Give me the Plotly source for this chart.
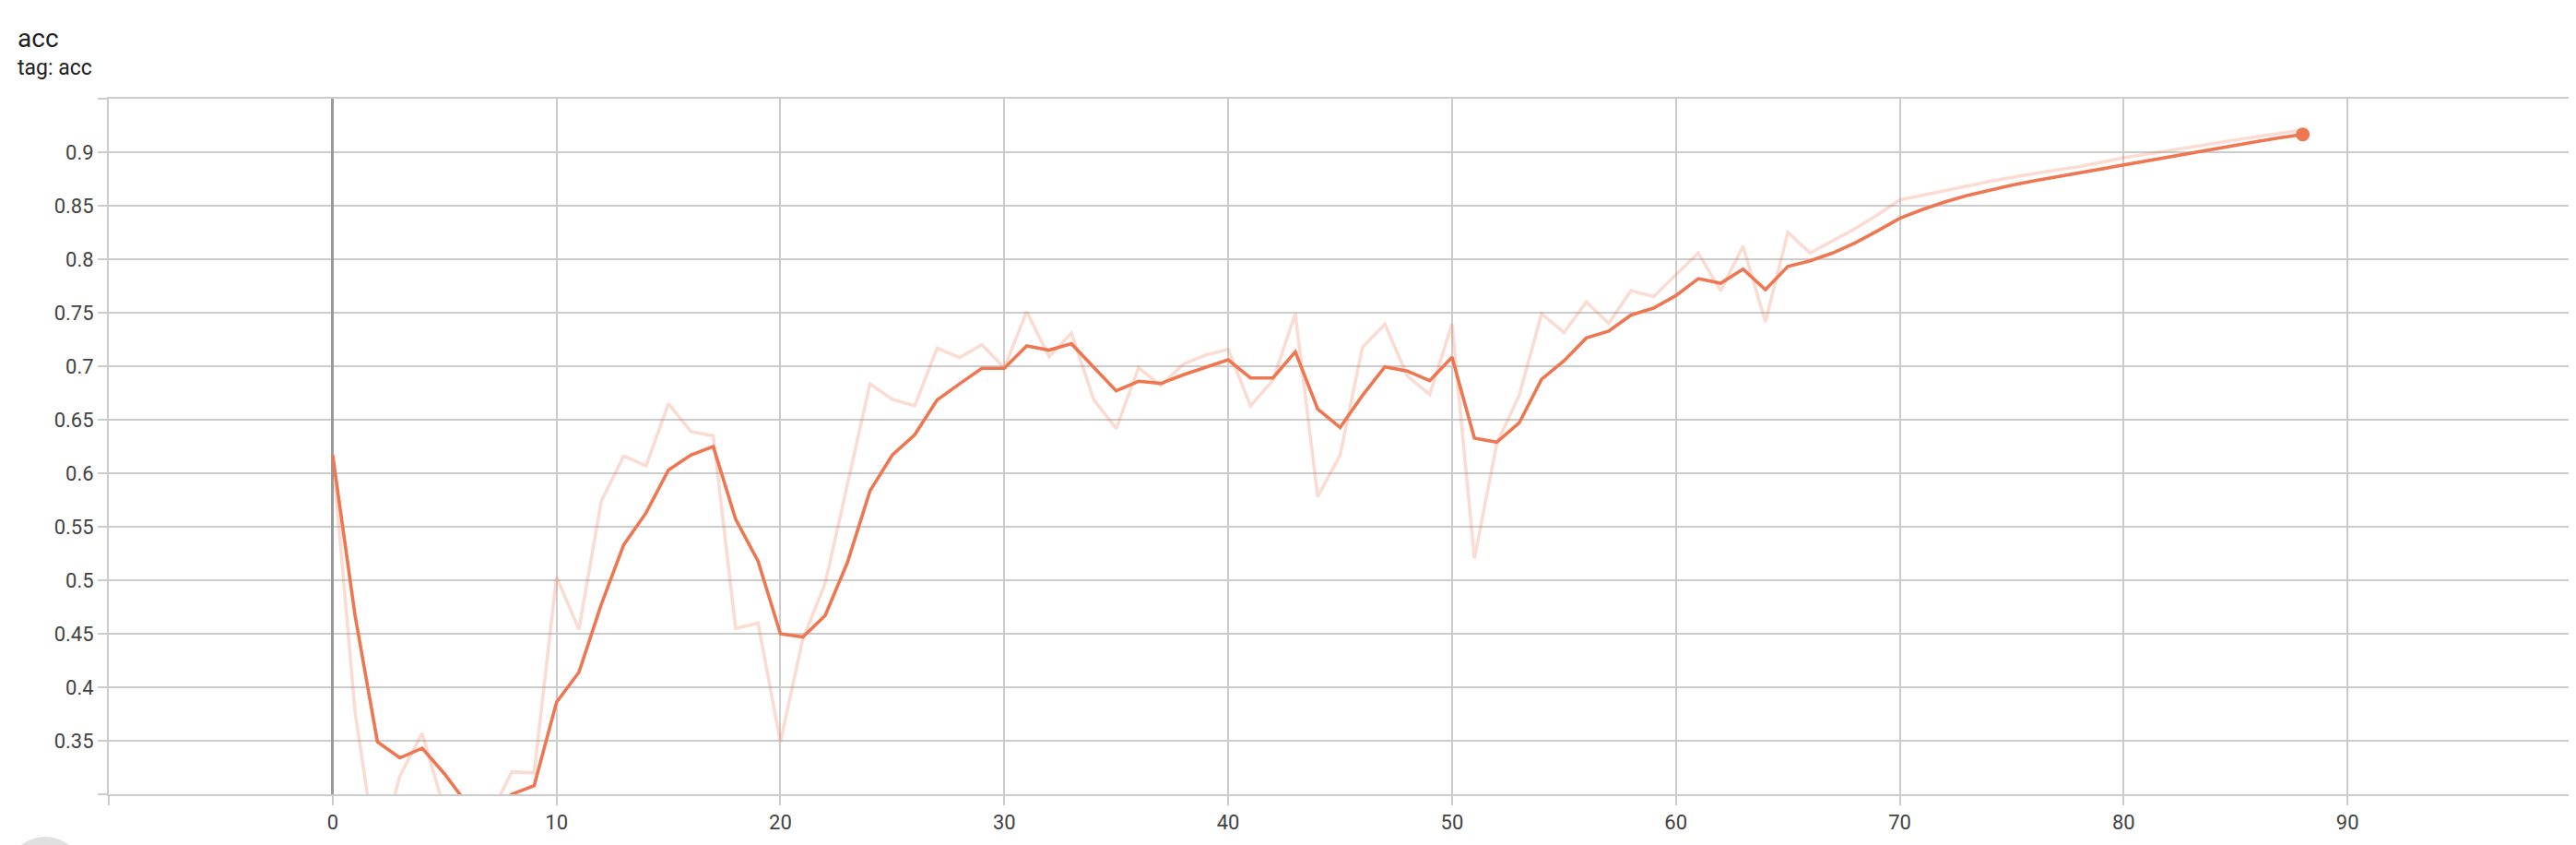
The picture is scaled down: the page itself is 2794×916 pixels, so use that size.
import plotly.graph_objects as go

# ---------------- data ----------------
steps = list(range(0, 89))

acc_raw = [
    0.617, 0.377, 0.237, 0.317, 0.357, 0.285, 0.251, 0.279, 0.321, 0.320,
    0.503, 0.454, 0.574, 0.616, 0.607, 0.665, 0.639, 0.635, 0.455, 0.460,
    0.349, 0.445, 0.497, 0.592, 0.6835, 0.669, 0.663, 0.717, 0.708, 0.720,
    0.6985, 0.751, 0.709, 0.731, 0.6685, 0.642, 0.6985, 0.682, 0.702, 0.7105,
    0.7157, 0.663, 0.687, 0.749, 0.578, 0.617, 0.7178, 0.7393, 0.691, 0.6736,
    0.7393, 0.5204, 0.6277, 0.6727, 0.749, 0.7315, 0.7599, 0.740, 0.7706, 0.765,
    0.785, 0.8058, 0.7706, 0.8122, 0.7414, 0.8251, 0.8058, 0.8174, 0.8285, 0.8414,
    0.8554, 0.8597, 0.864, 0.8687, 0.8727, 0.8765, 0.8802, 0.8834, 0.8865, 0.8905,
    0.8948, 0.898, 0.9015, 0.9049, 0.9084, 0.9115, 0.9147, 0.9178, 0.9207,
]

acc_smoothed = [
    0.617, 0.467, 0.349, 0.334, 0.343, 0.319, 0.291, 0.286, 0.300, 0.308,
    0.386, 0.414, 0.4775, 0.533, 0.563, 0.603, 0.617, 0.625, 0.557, 0.518,
    0.450, 0.447, 0.467, 0.517, 0.5835, 0.617, 0.636, 0.6685, 0.6835, 0.698,
    0.698, 0.719, 0.715, 0.721, 0.699, 0.677, 0.686, 0.684, 0.692, 0.699,
    0.706, 0.689, 0.689, 0.7135, 0.660, 0.6427, 0.6727, 0.6994, 0.6955, 0.6865,
    0.7084, 0.6328, 0.629, 0.647, 0.6878, 0.705, 0.7264, 0.7328, 0.7479, 0.7543,
    0.766, 0.7818, 0.7775, 0.7908, 0.7715, 0.7933, 0.7985, 0.8058, 0.8152, 0.8264,
    0.8382, 0.8463, 0.8534, 0.8595, 0.8647, 0.8692, 0.8733, 0.877, 0.8808, 0.8842,
    0.8882, 0.892, 0.8957, 0.8994, 0.9032, 0.9066, 0.9101, 0.9135, 0.9166,
]

x_tick_vals = [-10, 0, 10, 20, 30, 40, 50, 60, 70, 80, 90, 100]
x_tick_text = ["", "0", "10", "20", "30", "40", "50", "60", "70", "80", "90", ""]

y_tick_vals = [0.30, 0.35, 0.40, 0.45, 0.50, 0.55, 0.60, 0.65, 0.70, 0.75, 0.80, 0.85, 0.90, 0.95]
y_tick_text = ["", "0.35", "0.4", "0.45", "0.5", "0.55", "0.6", "0.65", "0.7", "0.75", "0.8", "0.85", "0.9", ""]

title_text = "acc"
subtitle_text = "tag: acc"

# ---------------- styles ----------------
LINE_COLOR = "#ee7650"
GRID = "#cccccc"
TICK_FONT = dict(family="Roboto, 'Noto Sans', sans-serif", size=22, color="#424242")

fig = go.Figure()

fig.add_trace(go.Scatter(
    x=steps, y=acc_raw, mode="lines",
    line=dict(color=LINE_COLOR, width=3.6),
    opacity=0.25, hoverinfo="skip", showlegend=False,
))
fig.add_trace(go.Scatter(
    x=steps, y=acc_smoothed, mode="lines",
    line=dict(color=LINE_COLOR, width=3.6),
    showlegend=False,
))
fig.add_trace(go.Scatter(
    x=[steps[-1]], y=[acc_smoothed[-1]], mode="markers",
    marker=dict(color=LINE_COLOR, size=15),
    showlegend=False,
))

# page body has an 8px default margin: shrink the figure so it fits the window
fig.update_layout(
    width=2786, height=908,
    margin=dict(l=110, r=5, t=99, b=55),
    paper_bgcolor="white", plot_bgcolor="white",
    font=dict(family="Roboto, 'Noto Sans', sans-serif"),
    showlegend=False,
    xaxis=dict(
        range=[-10, 100], tickmode="array", tickvals=x_tick_vals, ticktext=x_tick_text,
        showgrid=True, gridcolor=GRID, gridwidth=2,
        zeroline=True, zerolinecolor="#9a9a9a", zerolinewidth=3,
        showline=True, linecolor=GRID, linewidth=2, mirror=True,
        ticks="outside", ticklen=10, tickwidth=2, tickcolor=GRID,
        tickfont=TICK_FONT, automargin=False, fixedrange=True,
    ),
    yaxis=dict(
        range=[0.30, 0.95], tickmode="array", tickvals=y_tick_vals, ticktext=y_tick_text,
        showgrid=True, gridcolor=GRID, gridwidth=2,
        zeroline=False,
        showline=True, linecolor=GRID, linewidth=2, mirror=True,
        ticks="outside", ticklen=10, tickwidth=2, tickcolor=GRID,
        tickfont=TICK_FONT, automargin=False, fixedrange=True,
    ),
    annotations=[
        dict(text=title_text, xref="paper", yref="paper", x=-0.0378, y=1.087,
             xanchor="left", yanchor="middle", showarrow=False,
             font=dict(family="Roboto, sans-serif", size=28, color="#212121")),
        dict(text=subtitle_text, xref="paper", yref="paper", x=-0.0378, y=1.045,
             xanchor="left", yanchor="middle", showarrow=False,
             font=dict(family="Roboto, sans-serif", size=23, color="#212121")),
    ],
    shapes=[
        dict(type="circle", xref="paper", yref="paper",
             x0=-0.0416, x1=-0.0101, y0=-0.172, y1=-0.061,
             fillcolor="#e0e0e0", line=dict(width=0), layer="above"),
    ],
)

fig.write_html("out.html")
